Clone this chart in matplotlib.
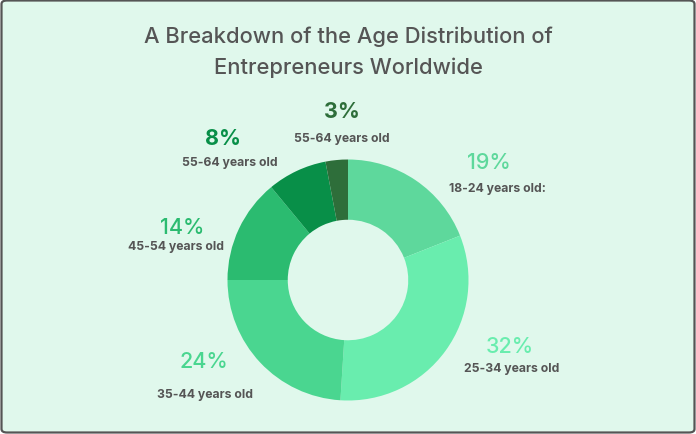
import matplotlib
matplotlib.use("Agg")
import matplotlib.pyplot as plt
from matplotlib.patches import FancyBboxPatch

# data
shares = [19, 32, 24, 14, 8, 3]
groups = ["18-24 years old:", "25-34 years old", "35-44 years old",
          "45-54 years old", "55-64 years old", "55-64 years old"]
colors = ["#5ED89C", "#69EDAE", "#4AD690", "#2BBB70", "#088F48", "#2E6E3A"]

# label layout, pixel coords (x pct, y pct, x group, y group)
label_pos = [(489, 163, 497, 189), (510, 347, 512, 369), (204, 362, 205, 395),
             (182, 228, 176, 247), (223, 139, 230, 163), (342, 112, 342, 139)]
pct_bold = [False, False, False, False, True, True]

W, H = 696, 435
plt.rcParams['font.family'] = ['Inter', 'DejaVu Sans']

fig = plt.figure(figsize=(W / 100, H / 100), dpi=100)
fig.patch.set_facecolor("white")

# rounded card background with border
card = FancyBboxPatch((1.5 / W, 1.5 / H), 1 - 3 / W, 1 - 3 / H,
                      boxstyle="round,pad=0,rounding_size=0.008",
                      transform=fig.transFigure, facecolor="#E0F8EC",
                      edgecolor="#555555", linewidth=1.6, zorder=-10)
fig.patches.append(card)

fig.text(0.5, 1 - 37 / H, "A Breakdown of the Age Distribution of",
         ha="center", va="center", fontsize=15.8, color="#555555", fontweight="medium")
fig.text(0.5, 1 - 68 / H, "Entrepreneurs Worldwide",
         ha="center", va="center", fontsize=15.8, color="#555555", fontweight="medium")

# donut: center (348, 281) px, radius 120 px
cx, cy, r = 348, 281, 120.5
ax = fig.add_axes([(cx - r) / W, (H - cy - r) / H, 2 * r / W, 2 * r / H])
ax.pie(shares, colors=colors, startangle=90, counterclock=False, radius=1,
       wedgeprops=dict(width=0.5, linewidth=0))
ax.set_xlim(-1, 1)
ax.set_ylim(-1, 1)
ax.set_aspect("auto")
ax.set_axis_off()

for val, grp, col, (xp, yp, xg, yg), b in zip(shares, groups, colors, label_pos, pct_bold):
    fig.text(xp / W, 1 - yp / H, f"{val}%", ha="center", va="center",
             fontsize=15.5, color=col, fontweight="bold" if b else "medium")
    fig.text(xg / W, 1 - yg / H, grp, ha="center", va="center",
             fontsize=8.8, color="#555555", fontweight="bold")

fig.savefig("out.png", dpi=100)
